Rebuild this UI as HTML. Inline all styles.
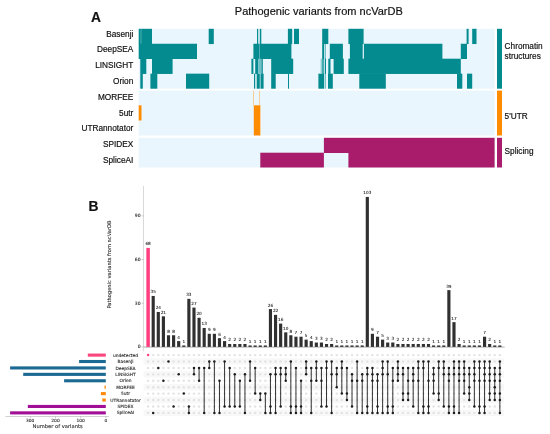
<!DOCTYPE html>
<html lang="en"><head><meta charset="utf-8"><title>Pathogenic variants from ncVarDB</title>
<style>html,body{margin:0;padding:0;background:#fff;}body{width:550px;height:434px;overflow:hidden;}svg{display:block;filter:blur(0.3px);}.a{font-family:"Liberation Sans",Arial,sans-serif;fill:#111;stroke:#111;stroke-width:0.18px;}.b{font-family:"DejaVu Sans","Liberation Sans",sans-serif;fill:#222;stroke:#333;stroke-width:0.1px;}</style></head><body>
<svg width="550" height="434" viewBox="0 0 550 434">
<rect x="0" y="0" width="550" height="434" fill="#ffffff"/>
<g id="panelA">
<text class="a" x="91" y="22.3" font-size="13.8" font-weight="bold" fill="#000">A</text>
<text class="a" x="318.8" y="14.8" font-size="11" text-anchor="middle">Pathogenic variants from ncVarDB</text>
<rect x="138.7" y="28.8" width="355.9" height="59.9" fill="#e9f6fd"/>
<rect x="138.7" y="90.6" width="355.9" height="44.9" fill="#e9f6fd"/>
<rect x="138.7" y="137.8" width="355.9" height="29.7" fill="#e9f6fd"/>
<rect x="138.7" y="28.8" width="13.3" height="15.25" fill="#038b8f"/>
<rect x="208.7" y="28.8" width="5.1" height="15.25" fill="#038b8f"/>
<rect x="257" y="28.8" width="1.2" height="15.25" fill="#038b8f"/>
<rect x="259.8" y="28.8" width="1.5" height="15.25" fill="#038b8f"/>
<rect x="287.9" y="28.8" width="4.3" height="15.25" fill="#038b8f"/>
<rect x="294" y="28.8" width="5" height="15.25" fill="#038b8f"/>
<rect x="322.2" y="28.8" width="6.1" height="15.25" fill="#038b8f"/>
<rect x="348.4" y="28.8" width="15.2" height="15.25" fill="#038b8f"/>
<rect x="466.6" y="28.8" width="2" height="15.25" fill="#038b8f"/>
<rect x="472.2" y="28.8" width="4.3" height="15.25" fill="#038b8f"/>
<rect x="138.7" y="43.75" width="58.3" height="15.25" fill="#038b8f"/>
<rect x="253.4" y="43.75" width="38" height="15.25" fill="#038b8f"/>
<rect x="322.2" y="43.75" width="1.8" height="15.25" fill="#038b8f"/>
<rect x="324.8" y="43.75" width="0.7" height="15.25" fill="#038b8f"/>
<rect x="329.8" y="43.75" width="13.1" height="15.25" fill="#038b8f"/>
<rect x="349.9" y="43.75" width="12.8" height="15.25" fill="#038b8f"/>
<rect x="363.9" y="43.75" width="78.5" height="15.25" fill="#038b8f"/>
<rect x="460.8" y="43.75" width="6.2" height="15.25" fill="#038b8f"/>
<rect x="140.3" y="58.7" width="6" height="15.25" fill="#038b8f"/>
<rect x="152" y="58.7" width="20.6" height="15.25" fill="#038b8f"/>
<rect x="251.4" y="58.7" width="2" height="15.25" fill="#038b8f"/>
<rect x="255.2" y="58.7" width="3" height="15.25" fill="#038b8f"/>
<rect x="261.3" y="58.7" width="1.5" height="15.25" fill="#038b8f"/>
<rect x="271.2" y="58.7" width="22" height="15.25" fill="#038b8f"/>
<rect x="322.2" y="58.7" width="1.5" height="15.25" fill="#038b8f"/>
<rect x="324.8" y="58.7" width="1.2" height="15.25" fill="#038b8f"/>
<rect x="328.3" y="58.7" width="2.2" height="15.25" fill="#038b8f"/>
<rect x="333.6" y="58.7" width="10.2" height="15.25" fill="#038b8f"/>
<rect x="348.4" y="58.7" width="112.4" height="15.25" fill="#038b8f"/>
<rect x="140.3" y="73.65" width="2.5" height="15.05" fill="#038b8f"/>
<rect x="150.4" y="73.65" width="6.9" height="15.05" fill="#038b8f"/>
<rect x="186" y="73.65" width="23.2" height="15.05" fill="#038b8f"/>
<rect x="254" y="73.65" width="1.2" height="15.05" fill="#038b8f"/>
<rect x="256.7" y="73.65" width="3.1" height="15.05" fill="#038b8f"/>
<rect x="260.5" y="73.65" width="3.1" height="15.05" fill="#038b8f"/>
<rect x="271.2" y="73.65" width="4.5" height="15.05" fill="#038b8f"/>
<rect x="288" y="73.65" width="1" height="15.05" fill="#038b8f"/>
<rect x="318.4" y="73.65" width="5.6" height="15.05" fill="#038b8f"/>
<rect x="324.8" y="73.65" width="0.7" height="15.05" fill="#038b8f"/>
<rect x="328" y="73.65" width="4.8" height="15.05" fill="#038b8f"/>
<rect x="359.3" y="73.65" width="26.5" height="15.05" fill="#038b8f"/>
<rect x="457" y="73.65" width="5.3" height="15.05" fill="#038b8f"/>
<rect x="467" y="73.65" width="5.2" height="15.05" fill="#038b8f"/>
<rect x="258.2" y="58.7" width="3.1" height="14.95" fill="#6fbfc4"/>
<rect x="320.6" y="58.7" width="1.6" height="14.95" fill="#8fd0d4"/>
<rect x="140.7" y="28.8" width="0.6" height="14.95" fill="#7cc6ca"/>
<rect x="259.3" y="43.75" width="0.6" height="14.95" fill="#7cc6ca"/>
<rect x="253.4" y="90.6" width="0.6" height="14.7" fill="#ffb55c"/>
<rect x="259" y="90.6" width="0.6" height="14.7" fill="#ffb55c"/>
<rect x="138.7" y="105.3" width="2.8" height="15.2" fill="#ff8c00"/>
<rect x="253.8" y="105.3" width="6.5" height="30.2" fill="#ff8c00"/>
<rect x="260.3" y="105.3" width="0.7" height="30.2" fill="#ffd19b"/>
<rect x="323.9" y="137.8" width="170.7" height="15.2" fill="#a91c6b"/>
<rect x="260.3" y="152.7" width="63.6" height="14.8" fill="#a91c6b"/>
<rect x="348.4" y="152.7" width="146.2" height="14.8" fill="#a91c6b"/>
<rect x="497" y="28.8" width="5" height="59.9" fill="#038b8f"/>
<rect x="497" y="90.6" width="5" height="44.9" fill="#ff8c00"/>
<rect x="497" y="137.8" width="5" height="29.7" fill="#a91c6b"/>
<text class="a" x="133.3" y="36.7" font-size="8.25" text-anchor="end">Basenji</text>
<text class="a" x="133.3" y="52.46" font-size="8.25" text-anchor="end">DeepSEA</text>
<text class="a" x="133.3" y="68.22" font-size="8.25" text-anchor="end">LINSIGHT</text>
<text class="a" x="133.3" y="83.98" font-size="8.25" text-anchor="end">Orion</text>
<text class="a" x="133.3" y="99.74" font-size="8.25" text-anchor="end">MORFEE</text>
<text class="a" x="133.3" y="115.5" font-size="8.25" text-anchor="end">5utr</text>
<text class="a" x="133.3" y="131.26" font-size="8.25" text-anchor="end">UTRannotator</text>
<text class="a" x="133.3" y="147.02" font-size="8.25" text-anchor="end">SPIDEX</text>
<text class="a" x="133.3" y="162.78" font-size="8.25" text-anchor="end">SpliceAI</text>
<text class="a" x="504.6" y="49" font-size="8.25">Chromatin</text>
<text class="a" x="504.6" y="59.3" font-size="8.25">structures</text>
<text class="a" x="504.6" y="118.6" font-size="8.25">5'UTR</text>
<text class="a" x="504.6" y="154.3" font-size="8.25">Splicing</text>
</g>
<g id="panelB">
<text class="a" x="88.6" y="211" font-size="13.8" font-weight="bold" fill="#000">B</text>
<line x1="143.5" y1="186" x2="143.5" y2="346.9" stroke="#c9c9c9" stroke-width="0.7"/>
<line x1="141.6" y1="346.9" x2="143.5" y2="346.9" stroke="#999" stroke-width="0.5"/>
<text class="b" x="140.6" y="348.4" font-size="4.5" text-anchor="end" fill="#444">0</text>
<line x1="141.6" y1="303.22" x2="143.5" y2="303.22" stroke="#999" stroke-width="0.5"/>
<text class="b" x="140.6" y="304.72" font-size="4.5" text-anchor="end" fill="#444">30</text>
<line x1="141.6" y1="259.54" x2="143.5" y2="259.54" stroke="#999" stroke-width="0.5"/>
<text class="b" x="140.6" y="261.04" font-size="4.5" text-anchor="end" fill="#444">60</text>
<line x1="141.6" y1="215.86" x2="143.5" y2="215.86" stroke="#999" stroke-width="0.5"/>
<text class="b" x="140.6" y="217.36" font-size="4.5" text-anchor="end" fill="#444">90</text>
<text class="b" transform="translate(110.6 264.5) rotate(-90)" font-size="5.15" text-anchor="middle" fill="#222">Pathogenic variants from ncVarDB</text>
<line x1="143.5" y1="347.1" x2="504.7" y2="347.1" stroke="#8c8c8c" stroke-width="0.7"/>
<line x1="143.4" y1="347" x2="143.4" y2="351.4" stroke="#c4c4c4" stroke-width="0.6"/>
<rect x="146.35" y="247.89" width="3.5" height="99.01" fill="#ff3f80"/>
<text class="b" x="148.1" y="245.39" font-size="4.2" text-anchor="middle" fill="#3a3a3a">68</text>
<rect x="151.62" y="295.94" width="3.15" height="50.96" fill="#303030"/>
<text class="b" x="153.2" y="293.44" font-size="4.2" text-anchor="middle" fill="#3a3a3a">35</text>
<rect x="156.72" y="311.96" width="3.15" height="34.94" fill="#303030"/>
<text class="b" x="158.3" y="309.46" font-size="4.2" text-anchor="middle" fill="#3a3a3a">24</text>
<rect x="161.82" y="316.32" width="3.15" height="30.58" fill="#303030"/>
<text class="b" x="163.39" y="313.82" font-size="4.2" text-anchor="middle" fill="#3a3a3a">21</text>
<rect x="166.92" y="335.25" width="3.15" height="11.65" fill="#303030"/>
<text class="b" x="168.49" y="332.75" font-size="4.2" text-anchor="middle" fill="#3a3a3a">8</text>
<rect x="172.02" y="335.25" width="3.15" height="11.65" fill="#303030"/>
<text class="b" x="173.59" y="332.75" font-size="4.2" text-anchor="middle" fill="#3a3a3a">8</text>
<rect x="177.11" y="341.08" width="3.15" height="5.82" fill="#303030"/>
<text class="b" x="178.69" y="338.58" font-size="4.2" text-anchor="middle" fill="#3a3a3a">4</text>
<rect x="182.21" y="345.44" width="3.15" height="1.46" fill="#303030"/>
<text class="b" x="183.79" y="342.94" font-size="4.2" text-anchor="middle" fill="#3a3a3a">1</text>
<rect x="187.31" y="298.85" width="3.15" height="48.05" fill="#303030"/>
<text class="b" x="188.88" y="296.35" font-size="4.2" text-anchor="middle" fill="#3a3a3a">33</text>
<rect x="192.41" y="307.59" width="3.15" height="39.31" fill="#303030"/>
<text class="b" x="193.98" y="305.09" font-size="4.2" text-anchor="middle" fill="#3a3a3a">27</text>
<rect x="197.5" y="317.78" width="3.15" height="29.12" fill="#303030"/>
<text class="b" x="199.08" y="315.28" font-size="4.2" text-anchor="middle" fill="#3a3a3a">20</text>
<rect x="202.6" y="327.97" width="3.15" height="18.93" fill="#303030"/>
<text class="b" x="204.18" y="325.47" font-size="4.2" text-anchor="middle" fill="#3a3a3a">13</text>
<rect x="207.7" y="333.8" width="3.15" height="13.1" fill="#303030"/>
<text class="b" x="209.28" y="331.3" font-size="4.2" text-anchor="middle" fill="#3a3a3a">9</text>
<rect x="212.8" y="333.8" width="3.15" height="13.1" fill="#303030"/>
<text class="b" x="214.37" y="331.3" font-size="4.2" text-anchor="middle" fill="#3a3a3a">9</text>
<rect x="217.9" y="338.16" width="3.15" height="8.74" fill="#303030"/>
<text class="b" x="219.47" y="335.66" font-size="4.2" text-anchor="middle" fill="#3a3a3a">6</text>
<rect x="223" y="341.08" width="3.15" height="5.82" fill="#303030"/>
<text class="b" x="224.57" y="338.58" font-size="4.2" text-anchor="middle" fill="#3a3a3a">4</text>
<rect x="228.09" y="343.99" width="3.15" height="2.91" fill="#303030"/>
<text class="b" x="229.67" y="341.49" font-size="4.2" text-anchor="middle" fill="#3a3a3a">2</text>
<rect x="233.19" y="343.99" width="3.15" height="2.91" fill="#303030"/>
<text class="b" x="234.77" y="341.49" font-size="4.2" text-anchor="middle" fill="#3a3a3a">2</text>
<rect x="238.29" y="343.99" width="3.15" height="2.91" fill="#303030"/>
<text class="b" x="239.86" y="341.49" font-size="4.2" text-anchor="middle" fill="#3a3a3a">2</text>
<rect x="243.39" y="343.99" width="3.15" height="2.91" fill="#303030"/>
<text class="b" x="244.96" y="341.49" font-size="4.2" text-anchor="middle" fill="#3a3a3a">2</text>
<rect x="248.49" y="345.44" width="3.15" height="1.46" fill="#303030"/>
<text class="b" x="250.06" y="342.94" font-size="4.2" text-anchor="middle" fill="#3a3a3a">1</text>
<rect x="253.58" y="345.44" width="3.15" height="1.46" fill="#303030"/>
<text class="b" x="255.16" y="342.94" font-size="4.2" text-anchor="middle" fill="#3a3a3a">1</text>
<rect x="258.68" y="345.44" width="3.15" height="1.46" fill="#303030"/>
<text class="b" x="260.26" y="342.94" font-size="4.2" text-anchor="middle" fill="#3a3a3a">1</text>
<rect x="263.78" y="345.44" width="3.15" height="1.46" fill="#303030"/>
<text class="b" x="265.35" y="342.94" font-size="4.2" text-anchor="middle" fill="#3a3a3a">1</text>
<rect x="268.88" y="309.04" width="3.15" height="37.86" fill="#303030"/>
<text class="b" x="270.45" y="306.54" font-size="4.2" text-anchor="middle" fill="#3a3a3a">26</text>
<rect x="273.98" y="314.87" width="3.15" height="32.03" fill="#303030"/>
<text class="b" x="275.55" y="312.37" font-size="4.2" text-anchor="middle" fill="#3a3a3a">22</text>
<rect x="279.07" y="323.6" width="3.15" height="23.3" fill="#303030"/>
<text class="b" x="280.65" y="321.1" font-size="4.2" text-anchor="middle" fill="#3a3a3a">16</text>
<rect x="284.17" y="332.34" width="3.15" height="14.56" fill="#303030"/>
<text class="b" x="285.75" y="329.84" font-size="4.2" text-anchor="middle" fill="#3a3a3a">10</text>
<rect x="289.27" y="335.25" width="3.15" height="11.65" fill="#303030"/>
<text class="b" x="290.84" y="332.75" font-size="4.2" text-anchor="middle" fill="#3a3a3a">8</text>
<rect x="294.37" y="336.71" width="3.15" height="10.19" fill="#303030"/>
<text class="b" x="295.94" y="334.21" font-size="4.2" text-anchor="middle" fill="#3a3a3a">7</text>
<rect x="299.46" y="336.71" width="3.15" height="10.19" fill="#303030"/>
<text class="b" x="301.04" y="334.21" font-size="4.2" text-anchor="middle" fill="#3a3a3a">7</text>
<rect x="304.56" y="339.62" width="3.15" height="7.28" fill="#303030"/>
<text class="b" x="306.14" y="337.12" font-size="4.2" text-anchor="middle" fill="#3a3a3a">5</text>
<rect x="309.66" y="341.08" width="3.15" height="5.82" fill="#303030"/>
<text class="b" x="311.24" y="338.58" font-size="4.2" text-anchor="middle" fill="#3a3a3a">4</text>
<rect x="314.76" y="342.53" width="3.15" height="4.37" fill="#303030"/>
<text class="b" x="316.33" y="340.03" font-size="4.2" text-anchor="middle" fill="#3a3a3a">3</text>
<rect x="319.86" y="342.53" width="3.15" height="4.37" fill="#303030"/>
<text class="b" x="321.43" y="340.03" font-size="4.2" text-anchor="middle" fill="#3a3a3a">3</text>
<rect x="324.95" y="343.99" width="3.15" height="2.91" fill="#303030"/>
<text class="b" x="326.53" y="341.49" font-size="4.2" text-anchor="middle" fill="#3a3a3a">2</text>
<rect x="330.05" y="343.99" width="3.15" height="2.91" fill="#303030"/>
<text class="b" x="331.63" y="341.49" font-size="4.2" text-anchor="middle" fill="#3a3a3a">2</text>
<rect x="335.15" y="345.44" width="3.15" height="1.46" fill="#303030"/>
<text class="b" x="336.73" y="342.94" font-size="4.2" text-anchor="middle" fill="#3a3a3a">1</text>
<rect x="340.25" y="345.44" width="3.15" height="1.46" fill="#303030"/>
<text class="b" x="341.82" y="342.94" font-size="4.2" text-anchor="middle" fill="#3a3a3a">1</text>
<rect x="345.35" y="345.44" width="3.15" height="1.46" fill="#303030"/>
<text class="b" x="346.92" y="342.94" font-size="4.2" text-anchor="middle" fill="#3a3a3a">1</text>
<rect x="350.44" y="345.44" width="3.15" height="1.46" fill="#303030"/>
<text class="b" x="352.02" y="342.94" font-size="4.2" text-anchor="middle" fill="#3a3a3a">1</text>
<rect x="355.54" y="345.44" width="3.15" height="1.46" fill="#303030"/>
<text class="b" x="357.12" y="342.94" font-size="4.2" text-anchor="middle" fill="#3a3a3a">1</text>
<rect x="360.64" y="345.44" width="3.15" height="1.46" fill="#303030"/>
<text class="b" x="362.22" y="342.94" font-size="4.2" text-anchor="middle" fill="#3a3a3a">1</text>
<rect x="365.74" y="196.93" width="3.15" height="149.97" fill="#303030"/>
<text class="b" x="367.31" y="194.43" font-size="4.2" text-anchor="middle" fill="#3a3a3a">103</text>
<rect x="370.84" y="333.8" width="3.15" height="13.1" fill="#303030"/>
<text class="b" x="372.41" y="331.3" font-size="4.2" text-anchor="middle" fill="#3a3a3a">9</text>
<rect x="375.94" y="336.71" width="3.15" height="10.19" fill="#303030"/>
<text class="b" x="377.51" y="334.21" font-size="4.2" text-anchor="middle" fill="#3a3a3a">7</text>
<rect x="381.03" y="339.62" width="3.15" height="7.28" fill="#303030"/>
<text class="b" x="382.61" y="337.12" font-size="4.2" text-anchor="middle" fill="#3a3a3a">5</text>
<rect x="386.13" y="342.53" width="3.15" height="4.37" fill="#303030"/>
<text class="b" x="387.71" y="340.03" font-size="4.2" text-anchor="middle" fill="#3a3a3a">3</text>
<rect x="391.23" y="342.53" width="3.15" height="4.37" fill="#303030"/>
<text class="b" x="392.8" y="340.03" font-size="4.2" text-anchor="middle" fill="#3a3a3a">3</text>
<rect x="396.33" y="343.99" width="3.15" height="2.91" fill="#303030"/>
<text class="b" x="397.9" y="341.49" font-size="4.2" text-anchor="middle" fill="#3a3a3a">2</text>
<rect x="401.43" y="343.99" width="3.15" height="2.91" fill="#303030"/>
<text class="b" x="403" y="341.49" font-size="4.2" text-anchor="middle" fill="#3a3a3a">2</text>
<rect x="406.52" y="343.99" width="3.15" height="2.91" fill="#303030"/>
<text class="b" x="408.1" y="341.49" font-size="4.2" text-anchor="middle" fill="#3a3a3a">2</text>
<rect x="411.62" y="343.99" width="3.15" height="2.91" fill="#303030"/>
<text class="b" x="413.2" y="341.49" font-size="4.2" text-anchor="middle" fill="#3a3a3a">2</text>
<rect x="416.72" y="343.99" width="3.15" height="2.91" fill="#303030"/>
<text class="b" x="418.29" y="341.49" font-size="4.2" text-anchor="middle" fill="#3a3a3a">2</text>
<rect x="421.82" y="343.99" width="3.15" height="2.91" fill="#303030"/>
<text class="b" x="423.39" y="341.49" font-size="4.2" text-anchor="middle" fill="#3a3a3a">2</text>
<rect x="426.92" y="343.99" width="3.15" height="2.91" fill="#303030"/>
<text class="b" x="428.49" y="341.49" font-size="4.2" text-anchor="middle" fill="#3a3a3a">2</text>
<rect x="432.01" y="345.44" width="3.15" height="1.46" fill="#303030"/>
<text class="b" x="433.59" y="342.94" font-size="4.2" text-anchor="middle" fill="#3a3a3a">1</text>
<rect x="437.11" y="345.44" width="3.15" height="1.46" fill="#303030"/>
<text class="b" x="438.69" y="342.94" font-size="4.2" text-anchor="middle" fill="#3a3a3a">1</text>
<rect x="442.21" y="345.44" width="3.15" height="1.46" fill="#303030"/>
<text class="b" x="443.78" y="342.94" font-size="4.2" text-anchor="middle" fill="#3a3a3a">1</text>
<rect x="447.31" y="290.12" width="3.15" height="56.78" fill="#303030"/>
<text class="b" x="448.88" y="287.62" font-size="4.2" text-anchor="middle" fill="#3a3a3a">39</text>
<rect x="452.41" y="322.15" width="3.15" height="24.75" fill="#303030"/>
<text class="b" x="453.98" y="319.65" font-size="4.2" text-anchor="middle" fill="#3a3a3a">17</text>
<rect x="457.5" y="343.99" width="3.15" height="2.91" fill="#303030"/>
<text class="b" x="459.08" y="341.49" font-size="4.2" text-anchor="middle" fill="#3a3a3a">2</text>
<rect x="462.6" y="345.44" width="3.15" height="1.46" fill="#303030"/>
<text class="b" x="464.18" y="342.94" font-size="4.2" text-anchor="middle" fill="#3a3a3a">1</text>
<rect x="467.7" y="345.44" width="3.15" height="1.46" fill="#303030"/>
<text class="b" x="469.27" y="342.94" font-size="4.2" text-anchor="middle" fill="#3a3a3a">1</text>
<rect x="472.8" y="345.44" width="3.15" height="1.46" fill="#303030"/>
<text class="b" x="474.37" y="342.94" font-size="4.2" text-anchor="middle" fill="#3a3a3a">1</text>
<rect x="477.9" y="345.44" width="3.15" height="1.46" fill="#303030"/>
<text class="b" x="479.47" y="342.94" font-size="4.2" text-anchor="middle" fill="#3a3a3a">1</text>
<rect x="482.99" y="336.71" width="3.15" height="10.19" fill="#303030"/>
<text class="b" x="484.57" y="334.21" font-size="4.2" text-anchor="middle" fill="#3a3a3a">7</text>
<rect x="488.09" y="343.99" width="3.15" height="2.91" fill="#303030"/>
<text class="b" x="489.67" y="341.49" font-size="4.2" text-anchor="middle" fill="#3a3a3a">2</text>
<rect x="493.19" y="345.44" width="3.15" height="1.46" fill="#303030"/>
<text class="b" x="494.76" y="342.94" font-size="4.2" text-anchor="middle" fill="#3a3a3a">1</text>
<rect x="498.29" y="345.44" width="3.15" height="1.46" fill="#303030"/>
<text class="b" x="499.86" y="342.94" font-size="4.2" text-anchor="middle" fill="#3a3a3a">1</text>
<rect x="143.4" y="358.31" width="360.6" height="6.42" fill="#f8f8f8"/>
<rect x="143.4" y="371.15" width="360.6" height="6.42" fill="#f8f8f8"/>
<rect x="143.4" y="383.99" width="360.6" height="6.42" fill="#f8f8f8"/>
<rect x="143.4" y="396.83" width="360.6" height="6.42" fill="#f8f8f8"/>
<rect x="143.4" y="409.67" width="360.6" height="6.42" fill="#f8f8f8"/>
<g fill="#e3e3e3">
<circle cx="148.1" cy="361.52" r="1.2"/>
<circle cx="148.1" cy="367.94" r="1.2"/>
<circle cx="148.1" cy="374.36" r="1.2"/>
<circle cx="148.1" cy="380.78" r="1.2"/>
<circle cx="148.1" cy="387.2" r="1.2"/>
<circle cx="148.1" cy="393.62" r="1.2"/>
<circle cx="148.1" cy="400.04" r="1.2"/>
<circle cx="148.1" cy="406.46" r="1.2"/>
<circle cx="148.1" cy="412.88" r="1.2"/>
<circle cx="153.2" cy="355.1" r="1.2"/>
<circle cx="153.2" cy="361.52" r="1.2"/>
<circle cx="153.2" cy="367.94" r="1.2"/>
<circle cx="153.2" cy="374.36" r="1.2"/>
<circle cx="153.2" cy="380.78" r="1.2"/>
<circle cx="153.2" cy="387.2" r="1.2"/>
<circle cx="153.2" cy="393.62" r="1.2"/>
<circle cx="153.2" cy="400.04" r="1.2"/>
<circle cx="153.2" cy="406.46" r="1.2"/>
<circle cx="158.3" cy="355.1" r="1.2"/>
<circle cx="158.3" cy="361.52" r="1.2"/>
<circle cx="158.3" cy="374.36" r="1.2"/>
<circle cx="158.3" cy="380.78" r="1.2"/>
<circle cx="158.3" cy="387.2" r="1.2"/>
<circle cx="158.3" cy="393.62" r="1.2"/>
<circle cx="158.3" cy="400.04" r="1.2"/>
<circle cx="158.3" cy="406.46" r="1.2"/>
<circle cx="158.3" cy="412.88" r="1.2"/>
<circle cx="163.39" cy="355.1" r="1.2"/>
<circle cx="163.39" cy="361.52" r="1.2"/>
<circle cx="163.39" cy="367.94" r="1.2"/>
<circle cx="163.39" cy="374.36" r="1.2"/>
<circle cx="163.39" cy="387.2" r="1.2"/>
<circle cx="163.39" cy="393.62" r="1.2"/>
<circle cx="163.39" cy="400.04" r="1.2"/>
<circle cx="163.39" cy="406.46" r="1.2"/>
<circle cx="163.39" cy="412.88" r="1.2"/>
<circle cx="168.49" cy="355.1" r="1.2"/>
<circle cx="168.49" cy="367.94" r="1.2"/>
<circle cx="168.49" cy="374.36" r="1.2"/>
<circle cx="168.49" cy="380.78" r="1.2"/>
<circle cx="168.49" cy="387.2" r="1.2"/>
<circle cx="168.49" cy="393.62" r="1.2"/>
<circle cx="168.49" cy="400.04" r="1.2"/>
<circle cx="168.49" cy="406.46" r="1.2"/>
<circle cx="168.49" cy="412.88" r="1.2"/>
<circle cx="173.59" cy="355.1" r="1.2"/>
<circle cx="173.59" cy="361.52" r="1.2"/>
<circle cx="173.59" cy="367.94" r="1.2"/>
<circle cx="173.59" cy="374.36" r="1.2"/>
<circle cx="173.59" cy="380.78" r="1.2"/>
<circle cx="173.59" cy="387.2" r="1.2"/>
<circle cx="173.59" cy="393.62" r="1.2"/>
<circle cx="173.59" cy="400.04" r="1.2"/>
<circle cx="173.59" cy="412.88" r="1.2"/>
<circle cx="178.69" cy="355.1" r="1.2"/>
<circle cx="178.69" cy="361.52" r="1.2"/>
<circle cx="178.69" cy="367.94" r="1.2"/>
<circle cx="178.69" cy="380.78" r="1.2"/>
<circle cx="178.69" cy="387.2" r="1.2"/>
<circle cx="178.69" cy="393.62" r="1.2"/>
<circle cx="178.69" cy="400.04" r="1.2"/>
<circle cx="178.69" cy="406.46" r="1.2"/>
<circle cx="178.69" cy="412.88" r="1.2"/>
<circle cx="183.79" cy="355.1" r="1.2"/>
<circle cx="183.79" cy="361.52" r="1.2"/>
<circle cx="183.79" cy="367.94" r="1.2"/>
<circle cx="183.79" cy="374.36" r="1.2"/>
<circle cx="183.79" cy="380.78" r="1.2"/>
<circle cx="183.79" cy="387.2" r="1.2"/>
<circle cx="183.79" cy="400.04" r="1.2"/>
<circle cx="183.79" cy="406.46" r="1.2"/>
<circle cx="183.79" cy="412.88" r="1.2"/>
<circle cx="188.88" cy="355.1" r="1.2"/>
<circle cx="188.88" cy="361.52" r="1.2"/>
<circle cx="188.88" cy="367.94" r="1.2"/>
<circle cx="188.88" cy="374.36" r="1.2"/>
<circle cx="188.88" cy="380.78" r="1.2"/>
<circle cx="188.88" cy="387.2" r="1.2"/>
<circle cx="188.88" cy="393.62" r="1.2"/>
<circle cx="188.88" cy="400.04" r="1.2"/>
<circle cx="193.98" cy="355.1" r="1.2"/>
<circle cx="193.98" cy="361.52" r="1.2"/>
<circle cx="193.98" cy="380.78" r="1.2"/>
<circle cx="193.98" cy="387.2" r="1.2"/>
<circle cx="193.98" cy="393.62" r="1.2"/>
<circle cx="193.98" cy="400.04" r="1.2"/>
<circle cx="193.98" cy="406.46" r="1.2"/>
<circle cx="193.98" cy="412.88" r="1.2"/>
<circle cx="199.08" cy="355.1" r="1.2"/>
<circle cx="199.08" cy="361.52" r="1.2"/>
<circle cx="199.08" cy="374.36" r="1.2"/>
<circle cx="199.08" cy="387.2" r="1.2"/>
<circle cx="199.08" cy="393.62" r="1.2"/>
<circle cx="199.08" cy="400.04" r="1.2"/>
<circle cx="199.08" cy="406.46" r="1.2"/>
<circle cx="199.08" cy="412.88" r="1.2"/>
<circle cx="204.18" cy="355.1" r="1.2"/>
<circle cx="204.18" cy="361.52" r="1.2"/>
<circle cx="204.18" cy="374.36" r="1.2"/>
<circle cx="204.18" cy="380.78" r="1.2"/>
<circle cx="204.18" cy="387.2" r="1.2"/>
<circle cx="204.18" cy="393.62" r="1.2"/>
<circle cx="204.18" cy="400.04" r="1.2"/>
<circle cx="204.18" cy="406.46" r="1.2"/>
<circle cx="209.28" cy="355.1" r="1.2"/>
<circle cx="209.28" cy="374.36" r="1.2"/>
<circle cx="209.28" cy="380.78" r="1.2"/>
<circle cx="209.28" cy="387.2" r="1.2"/>
<circle cx="209.28" cy="393.62" r="1.2"/>
<circle cx="209.28" cy="400.04" r="1.2"/>
<circle cx="209.28" cy="406.46" r="1.2"/>
<circle cx="209.28" cy="412.88" r="1.2"/>
<circle cx="214.37" cy="355.1" r="1.2"/>
<circle cx="214.37" cy="367.94" r="1.2"/>
<circle cx="214.37" cy="374.36" r="1.2"/>
<circle cx="214.37" cy="380.78" r="1.2"/>
<circle cx="214.37" cy="387.2" r="1.2"/>
<circle cx="214.37" cy="393.62" r="1.2"/>
<circle cx="214.37" cy="400.04" r="1.2"/>
<circle cx="214.37" cy="406.46" r="1.2"/>
<circle cx="219.47" cy="355.1" r="1.2"/>
<circle cx="219.47" cy="361.52" r="1.2"/>
<circle cx="219.47" cy="367.94" r="1.2"/>
<circle cx="219.47" cy="374.36" r="1.2"/>
<circle cx="219.47" cy="387.2" r="1.2"/>
<circle cx="219.47" cy="393.62" r="1.2"/>
<circle cx="219.47" cy="400.04" r="1.2"/>
<circle cx="219.47" cy="406.46" r="1.2"/>
<circle cx="224.57" cy="355.1" r="1.2"/>
<circle cx="224.57" cy="367.94" r="1.2"/>
<circle cx="224.57" cy="374.36" r="1.2"/>
<circle cx="224.57" cy="380.78" r="1.2"/>
<circle cx="224.57" cy="387.2" r="1.2"/>
<circle cx="224.57" cy="393.62" r="1.2"/>
<circle cx="224.57" cy="400.04" r="1.2"/>
<circle cx="224.57" cy="412.88" r="1.2"/>
<circle cx="229.67" cy="355.1" r="1.2"/>
<circle cx="229.67" cy="361.52" r="1.2"/>
<circle cx="229.67" cy="374.36" r="1.2"/>
<circle cx="229.67" cy="380.78" r="1.2"/>
<circle cx="229.67" cy="387.2" r="1.2"/>
<circle cx="229.67" cy="393.62" r="1.2"/>
<circle cx="229.67" cy="400.04" r="1.2"/>
<circle cx="229.67" cy="412.88" r="1.2"/>
<circle cx="234.77" cy="355.1" r="1.2"/>
<circle cx="234.77" cy="361.52" r="1.2"/>
<circle cx="234.77" cy="367.94" r="1.2"/>
<circle cx="234.77" cy="380.78" r="1.2"/>
<circle cx="234.77" cy="387.2" r="1.2"/>
<circle cx="234.77" cy="393.62" r="1.2"/>
<circle cx="234.77" cy="400.04" r="1.2"/>
<circle cx="234.77" cy="412.88" r="1.2"/>
<circle cx="239.86" cy="355.1" r="1.2"/>
<circle cx="239.86" cy="361.52" r="1.2"/>
<circle cx="239.86" cy="367.94" r="1.2"/>
<circle cx="239.86" cy="374.36" r="1.2"/>
<circle cx="239.86" cy="387.2" r="1.2"/>
<circle cx="239.86" cy="393.62" r="1.2"/>
<circle cx="239.86" cy="400.04" r="1.2"/>
<circle cx="239.86" cy="412.88" r="1.2"/>
<circle cx="244.96" cy="355.1" r="1.2"/>
<circle cx="244.96" cy="361.52" r="1.2"/>
<circle cx="244.96" cy="367.94" r="1.2"/>
<circle cx="244.96" cy="380.78" r="1.2"/>
<circle cx="244.96" cy="387.2" r="1.2"/>
<circle cx="244.96" cy="393.62" r="1.2"/>
<circle cx="244.96" cy="400.04" r="1.2"/>
<circle cx="244.96" cy="406.46" r="1.2"/>
<circle cx="250.06" cy="355.1" r="1.2"/>
<circle cx="250.06" cy="367.94" r="1.2"/>
<circle cx="250.06" cy="374.36" r="1.2"/>
<circle cx="250.06" cy="387.2" r="1.2"/>
<circle cx="250.06" cy="393.62" r="1.2"/>
<circle cx="250.06" cy="400.04" r="1.2"/>
<circle cx="250.06" cy="406.46" r="1.2"/>
<circle cx="250.06" cy="412.88" r="1.2"/>
<circle cx="255.16" cy="355.1" r="1.2"/>
<circle cx="255.16" cy="361.52" r="1.2"/>
<circle cx="255.16" cy="374.36" r="1.2"/>
<circle cx="255.16" cy="380.78" r="1.2"/>
<circle cx="255.16" cy="387.2" r="1.2"/>
<circle cx="255.16" cy="400.04" r="1.2"/>
<circle cx="255.16" cy="406.46" r="1.2"/>
<circle cx="255.16" cy="412.88" r="1.2"/>
<circle cx="260.26" cy="355.1" r="1.2"/>
<circle cx="260.26" cy="361.52" r="1.2"/>
<circle cx="260.26" cy="367.94" r="1.2"/>
<circle cx="260.26" cy="374.36" r="1.2"/>
<circle cx="260.26" cy="380.78" r="1.2"/>
<circle cx="260.26" cy="387.2" r="1.2"/>
<circle cx="260.26" cy="406.46" r="1.2"/>
<circle cx="260.26" cy="412.88" r="1.2"/>
<circle cx="265.35" cy="355.1" r="1.2"/>
<circle cx="265.35" cy="361.52" r="1.2"/>
<circle cx="265.35" cy="367.94" r="1.2"/>
<circle cx="265.35" cy="374.36" r="1.2"/>
<circle cx="265.35" cy="380.78" r="1.2"/>
<circle cx="265.35" cy="387.2" r="1.2"/>
<circle cx="265.35" cy="400.04" r="1.2"/>
<circle cx="265.35" cy="406.46" r="1.2"/>
<circle cx="270.45" cy="355.1" r="1.2"/>
<circle cx="270.45" cy="361.52" r="1.2"/>
<circle cx="270.45" cy="367.94" r="1.2"/>
<circle cx="270.45" cy="380.78" r="1.2"/>
<circle cx="270.45" cy="387.2" r="1.2"/>
<circle cx="270.45" cy="393.62" r="1.2"/>
<circle cx="270.45" cy="400.04" r="1.2"/>
<circle cx="275.55" cy="355.1" r="1.2"/>
<circle cx="275.55" cy="361.52" r="1.2"/>
<circle cx="275.55" cy="380.78" r="1.2"/>
<circle cx="275.55" cy="387.2" r="1.2"/>
<circle cx="275.55" cy="393.62" r="1.2"/>
<circle cx="275.55" cy="400.04" r="1.2"/>
<circle cx="275.55" cy="406.46" r="1.2"/>
<circle cx="280.65" cy="355.1" r="1.2"/>
<circle cx="280.65" cy="361.52" r="1.2"/>
<circle cx="280.65" cy="380.78" r="1.2"/>
<circle cx="280.65" cy="387.2" r="1.2"/>
<circle cx="280.65" cy="393.62" r="1.2"/>
<circle cx="280.65" cy="400.04" r="1.2"/>
<circle cx="280.65" cy="412.88" r="1.2"/>
<circle cx="285.75" cy="355.1" r="1.2"/>
<circle cx="285.75" cy="361.52" r="1.2"/>
<circle cx="285.75" cy="387.2" r="1.2"/>
<circle cx="285.75" cy="393.62" r="1.2"/>
<circle cx="285.75" cy="400.04" r="1.2"/>
<circle cx="285.75" cy="406.46" r="1.2"/>
<circle cx="285.75" cy="412.88" r="1.2"/>
<circle cx="290.84" cy="355.1" r="1.2"/>
<circle cx="290.84" cy="367.94" r="1.2"/>
<circle cx="290.84" cy="374.36" r="1.2"/>
<circle cx="290.84" cy="380.78" r="1.2"/>
<circle cx="290.84" cy="387.2" r="1.2"/>
<circle cx="290.84" cy="393.62" r="1.2"/>
<circle cx="290.84" cy="400.04" r="1.2"/>
<circle cx="295.94" cy="355.1" r="1.2"/>
<circle cx="295.94" cy="361.52" r="1.2"/>
<circle cx="295.94" cy="374.36" r="1.2"/>
<circle cx="295.94" cy="380.78" r="1.2"/>
<circle cx="295.94" cy="387.2" r="1.2"/>
<circle cx="295.94" cy="393.62" r="1.2"/>
<circle cx="295.94" cy="400.04" r="1.2"/>
<circle cx="301.04" cy="355.1" r="1.2"/>
<circle cx="301.04" cy="361.52" r="1.2"/>
<circle cx="301.04" cy="367.94" r="1.2"/>
<circle cx="301.04" cy="374.36" r="1.2"/>
<circle cx="301.04" cy="387.2" r="1.2"/>
<circle cx="301.04" cy="393.62" r="1.2"/>
<circle cx="301.04" cy="400.04" r="1.2"/>
<circle cx="306.14" cy="355.1" r="1.2"/>
<circle cx="306.14" cy="380.78" r="1.2"/>
<circle cx="306.14" cy="387.2" r="1.2"/>
<circle cx="306.14" cy="393.62" r="1.2"/>
<circle cx="306.14" cy="400.04" r="1.2"/>
<circle cx="306.14" cy="406.46" r="1.2"/>
<circle cx="306.14" cy="412.88" r="1.2"/>
<circle cx="311.24" cy="355.1" r="1.2"/>
<circle cx="311.24" cy="361.52" r="1.2"/>
<circle cx="311.24" cy="374.36" r="1.2"/>
<circle cx="311.24" cy="387.2" r="1.2"/>
<circle cx="311.24" cy="393.62" r="1.2"/>
<circle cx="311.24" cy="400.04" r="1.2"/>
<circle cx="311.24" cy="406.46" r="1.2"/>
<circle cx="316.33" cy="355.1" r="1.2"/>
<circle cx="316.33" cy="374.36" r="1.2"/>
<circle cx="316.33" cy="387.2" r="1.2"/>
<circle cx="316.33" cy="393.62" r="1.2"/>
<circle cx="316.33" cy="400.04" r="1.2"/>
<circle cx="316.33" cy="406.46" r="1.2"/>
<circle cx="316.33" cy="412.88" r="1.2"/>
<circle cx="321.43" cy="355.1" r="1.2"/>
<circle cx="321.43" cy="361.52" r="1.2"/>
<circle cx="321.43" cy="374.36" r="1.2"/>
<circle cx="321.43" cy="387.2" r="1.2"/>
<circle cx="321.43" cy="393.62" r="1.2"/>
<circle cx="321.43" cy="400.04" r="1.2"/>
<circle cx="321.43" cy="412.88" r="1.2"/>
<circle cx="326.53" cy="355.1" r="1.2"/>
<circle cx="326.53" cy="374.36" r="1.2"/>
<circle cx="326.53" cy="380.78" r="1.2"/>
<circle cx="326.53" cy="387.2" r="1.2"/>
<circle cx="326.53" cy="393.62" r="1.2"/>
<circle cx="326.53" cy="400.04" r="1.2"/>
<circle cx="326.53" cy="412.88" r="1.2"/>
<circle cx="331.63" cy="355.1" r="1.2"/>
<circle cx="331.63" cy="367.94" r="1.2"/>
<circle cx="331.63" cy="380.78" r="1.2"/>
<circle cx="331.63" cy="387.2" r="1.2"/>
<circle cx="331.63" cy="393.62" r="1.2"/>
<circle cx="331.63" cy="400.04" r="1.2"/>
<circle cx="331.63" cy="406.46" r="1.2"/>
<circle cx="336.73" cy="355.1" r="1.2"/>
<circle cx="336.73" cy="361.52" r="1.2"/>
<circle cx="336.73" cy="380.78" r="1.2"/>
<circle cx="336.73" cy="393.62" r="1.2"/>
<circle cx="336.73" cy="400.04" r="1.2"/>
<circle cx="336.73" cy="406.46" r="1.2"/>
<circle cx="336.73" cy="412.88" r="1.2"/>
<circle cx="341.82" cy="355.1" r="1.2"/>
<circle cx="341.82" cy="374.36" r="1.2"/>
<circle cx="341.82" cy="380.78" r="1.2"/>
<circle cx="341.82" cy="387.2" r="1.2"/>
<circle cx="341.82" cy="400.04" r="1.2"/>
<circle cx="341.82" cy="406.46" r="1.2"/>
<circle cx="341.82" cy="412.88" r="1.2"/>
<circle cx="346.92" cy="355.1" r="1.2"/>
<circle cx="346.92" cy="361.52" r="1.2"/>
<circle cx="346.92" cy="374.36" r="1.2"/>
<circle cx="346.92" cy="380.78" r="1.2"/>
<circle cx="346.92" cy="387.2" r="1.2"/>
<circle cx="346.92" cy="406.46" r="1.2"/>
<circle cx="346.92" cy="412.88" r="1.2"/>
<circle cx="352.02" cy="355.1" r="1.2"/>
<circle cx="352.02" cy="361.52" r="1.2"/>
<circle cx="352.02" cy="367.94" r="1.2"/>
<circle cx="352.02" cy="387.2" r="1.2"/>
<circle cx="352.02" cy="393.62" r="1.2"/>
<circle cx="352.02" cy="400.04" r="1.2"/>
<circle cx="352.02" cy="412.88" r="1.2"/>
<circle cx="357.12" cy="355.1" r="1.2"/>
<circle cx="357.12" cy="367.94" r="1.2"/>
<circle cx="357.12" cy="374.36" r="1.2"/>
<circle cx="357.12" cy="387.2" r="1.2"/>
<circle cx="357.12" cy="393.62" r="1.2"/>
<circle cx="357.12" cy="400.04" r="1.2"/>
<circle cx="357.12" cy="406.46" r="1.2"/>
<circle cx="362.22" cy="355.1" r="1.2"/>
<circle cx="362.22" cy="361.52" r="1.2"/>
<circle cx="362.22" cy="367.94" r="1.2"/>
<circle cx="362.22" cy="387.2" r="1.2"/>
<circle cx="362.22" cy="393.62" r="1.2"/>
<circle cx="362.22" cy="400.04" r="1.2"/>
<circle cx="362.22" cy="406.46" r="1.2"/>
<circle cx="367.31" cy="355.1" r="1.2"/>
<circle cx="367.31" cy="361.52" r="1.2"/>
<circle cx="367.31" cy="380.78" r="1.2"/>
<circle cx="367.31" cy="387.2" r="1.2"/>
<circle cx="367.31" cy="393.62" r="1.2"/>
<circle cx="367.31" cy="400.04" r="1.2"/>
<circle cx="372.41" cy="355.1" r="1.2"/>
<circle cx="372.41" cy="361.52" r="1.2"/>
<circle cx="372.41" cy="387.2" r="1.2"/>
<circle cx="372.41" cy="393.62" r="1.2"/>
<circle cx="372.41" cy="400.04" r="1.2"/>
<circle cx="372.41" cy="406.46" r="1.2"/>
<circle cx="377.51" cy="355.1" r="1.2"/>
<circle cx="377.51" cy="361.52" r="1.2"/>
<circle cx="377.51" cy="367.94" r="1.2"/>
<circle cx="377.51" cy="387.2" r="1.2"/>
<circle cx="377.51" cy="393.62" r="1.2"/>
<circle cx="377.51" cy="400.04" r="1.2"/>
<circle cx="382.61" cy="355.1" r="1.2"/>
<circle cx="382.61" cy="380.78" r="1.2"/>
<circle cx="382.61" cy="387.2" r="1.2"/>
<circle cx="382.61" cy="393.62" r="1.2"/>
<circle cx="382.61" cy="400.04" r="1.2"/>
<circle cx="382.61" cy="406.46" r="1.2"/>
<circle cx="387.71" cy="355.1" r="1.2"/>
<circle cx="387.71" cy="367.94" r="1.2"/>
<circle cx="387.71" cy="380.78" r="1.2"/>
<circle cx="387.71" cy="387.2" r="1.2"/>
<circle cx="387.71" cy="393.62" r="1.2"/>
<circle cx="387.71" cy="400.04" r="1.2"/>
<circle cx="392.8" cy="355.1" r="1.2"/>
<circle cx="392.8" cy="361.52" r="1.2"/>
<circle cx="392.8" cy="374.36" r="1.2"/>
<circle cx="392.8" cy="387.2" r="1.2"/>
<circle cx="392.8" cy="393.62" r="1.2"/>
<circle cx="392.8" cy="400.04" r="1.2"/>
<circle cx="397.9" cy="355.1" r="1.2"/>
<circle cx="397.9" cy="387.2" r="1.2"/>
<circle cx="397.9" cy="393.62" r="1.2"/>
<circle cx="397.9" cy="400.04" r="1.2"/>
<circle cx="397.9" cy="406.46" r="1.2"/>
<circle cx="397.9" cy="412.88" r="1.2"/>
<circle cx="403" cy="355.1" r="1.2"/>
<circle cx="403" cy="361.52" r="1.2"/>
<circle cx="403" cy="380.78" r="1.2"/>
<circle cx="403" cy="387.2" r="1.2"/>
<circle cx="403" cy="406.46" r="1.2"/>
<circle cx="403" cy="412.88" r="1.2"/>
<circle cx="408.1" cy="355.1" r="1.2"/>
<circle cx="408.1" cy="361.52" r="1.2"/>
<circle cx="408.1" cy="374.36" r="1.2"/>
<circle cx="408.1" cy="387.2" r="1.2"/>
<circle cx="408.1" cy="406.46" r="1.2"/>
<circle cx="408.1" cy="412.88" r="1.2"/>
<circle cx="413.2" cy="355.1" r="1.2"/>
<circle cx="413.2" cy="361.52" r="1.2"/>
<circle cx="413.2" cy="387.2" r="1.2"/>
<circle cx="413.2" cy="393.62" r="1.2"/>
<circle cx="413.2" cy="400.04" r="1.2"/>
<circle cx="413.2" cy="412.88" r="1.2"/>
<circle cx="418.29" cy="355.1" r="1.2"/>
<circle cx="418.29" cy="374.36" r="1.2"/>
<circle cx="418.29" cy="387.2" r="1.2"/>
<circle cx="418.29" cy="393.62" r="1.2"/>
<circle cx="418.29" cy="400.04" r="1.2"/>
<circle cx="418.29" cy="406.46" r="1.2"/>
<circle cx="423.39" cy="355.1" r="1.2"/>
<circle cx="423.39" cy="374.36" r="1.2"/>
<circle cx="423.39" cy="380.78" r="1.2"/>
<circle cx="423.39" cy="387.2" r="1.2"/>
<circle cx="423.39" cy="393.62" r="1.2"/>
<circle cx="423.39" cy="400.04" r="1.2"/>
<circle cx="428.49" cy="355.1" r="1.2"/>
<circle cx="428.49" cy="367.94" r="1.2"/>
<circle cx="428.49" cy="374.36" r="1.2"/>
<circle cx="428.49" cy="387.2" r="1.2"/>
<circle cx="428.49" cy="393.62" r="1.2"/>
<circle cx="428.49" cy="400.04" r="1.2"/>
<circle cx="433.59" cy="355.1" r="1.2"/>
<circle cx="433.59" cy="361.52" r="1.2"/>
<circle cx="433.59" cy="387.2" r="1.2"/>
<circle cx="433.59" cy="400.04" r="1.2"/>
<circle cx="433.59" cy="406.46" r="1.2"/>
<circle cx="433.59" cy="412.88" r="1.2"/>
<circle cx="438.69" cy="355.1" r="1.2"/>
<circle cx="438.69" cy="374.36" r="1.2"/>
<circle cx="438.69" cy="380.78" r="1.2"/>
<circle cx="438.69" cy="387.2" r="1.2"/>
<circle cx="438.69" cy="406.46" r="1.2"/>
<circle cx="438.69" cy="412.88" r="1.2"/>
<circle cx="443.78" cy="355.1" r="1.2"/>
<circle cx="443.78" cy="380.78" r="1.2"/>
<circle cx="443.78" cy="387.2" r="1.2"/>
<circle cx="443.78" cy="393.62" r="1.2"/>
<circle cx="443.78" cy="400.04" r="1.2"/>
<circle cx="443.78" cy="412.88" r="1.2"/>
<circle cx="448.88" cy="355.1" r="1.2"/>
<circle cx="448.88" cy="361.52" r="1.2"/>
<circle cx="448.88" cy="387.2" r="1.2"/>
<circle cx="448.88" cy="393.62" r="1.2"/>
<circle cx="448.88" cy="400.04" r="1.2"/>
<circle cx="453.98" cy="355.1" r="1.2"/>
<circle cx="453.98" cy="380.78" r="1.2"/>
<circle cx="453.98" cy="387.2" r="1.2"/>
<circle cx="453.98" cy="393.62" r="1.2"/>
<circle cx="453.98" cy="400.04" r="1.2"/>
<circle cx="459.08" cy="355.1" r="1.2"/>
<circle cx="459.08" cy="387.2" r="1.2"/>
<circle cx="459.08" cy="393.62" r="1.2"/>
<circle cx="459.08" cy="400.04" r="1.2"/>
<circle cx="459.08" cy="406.46" r="1.2"/>
<circle cx="464.18" cy="355.1" r="1.2"/>
<circle cx="464.18" cy="387.2" r="1.2"/>
<circle cx="464.18" cy="400.04" r="1.2"/>
<circle cx="464.18" cy="406.46" r="1.2"/>
<circle cx="464.18" cy="412.88" r="1.2"/>
<circle cx="469.27" cy="355.1" r="1.2"/>
<circle cx="469.27" cy="361.52" r="1.2"/>
<circle cx="469.27" cy="380.78" r="1.2"/>
<circle cx="469.27" cy="406.46" r="1.2"/>
<circle cx="469.27" cy="412.88" r="1.2"/>
<circle cx="474.37" cy="355.1" r="1.2"/>
<circle cx="474.37" cy="387.2" r="1.2"/>
<circle cx="474.37" cy="393.62" r="1.2"/>
<circle cx="474.37" cy="400.04" r="1.2"/>
<circle cx="474.37" cy="412.88" r="1.2"/>
<circle cx="479.47" cy="355.1" r="1.2"/>
<circle cx="479.47" cy="374.36" r="1.2"/>
<circle cx="479.47" cy="387.2" r="1.2"/>
<circle cx="479.47" cy="393.62" r="1.2"/>
<circle cx="479.47" cy="400.04" r="1.2"/>
<circle cx="484.57" cy="355.1" r="1.2"/>
<circle cx="484.57" cy="387.2" r="1.2"/>
<circle cx="484.57" cy="393.62" r="1.2"/>
<circle cx="484.57" cy="400.04" r="1.2"/>
<circle cx="489.67" cy="355.1" r="1.2"/>
<circle cx="489.67" cy="387.2" r="1.2"/>
<circle cx="489.67" cy="406.46" r="1.2"/>
<circle cx="489.67" cy="412.88" r="1.2"/>
<circle cx="494.76" cy="355.1" r="1.2"/>
<circle cx="494.76" cy="361.52" r="1.2"/>
<circle cx="494.76" cy="406.46" r="1.2"/>
<circle cx="494.76" cy="412.88" r="1.2"/>
<circle cx="499.86" cy="355.1" r="1.2"/>
<circle cx="499.86" cy="387.2" r="1.2"/>
<circle cx="499.86" cy="406.46" r="1.2"/>
</g>
<circle cx="148.1" cy="355.1" r="1.25" fill="#ff3f80"/>
<circle cx="153.2" cy="412.88" r="1.25" fill="#1c1c1c"/>
<circle cx="158.3" cy="367.94" r="1.25" fill="#1c1c1c"/>
<circle cx="163.39" cy="380.78" r="1.25" fill="#1c1c1c"/>
<circle cx="168.49" cy="361.52" r="1.25" fill="#1c1c1c"/>
<circle cx="173.59" cy="406.46" r="1.25" fill="#1c1c1c"/>
<circle cx="178.69" cy="374.36" r="1.25" fill="#1c1c1c"/>
<circle cx="183.79" cy="393.62" r="1.25" fill="#1c1c1c"/>
<line x1="188.88" y1="406.46" x2="188.88" y2="412.88" stroke="#1c1c1c" stroke-width="0.9"/>
<circle cx="188.88" cy="406.46" r="1.25" fill="#1c1c1c"/>
<circle cx="188.88" cy="412.88" r="1.25" fill="#1c1c1c"/>
<line x1="193.98" y1="367.94" x2="193.98" y2="374.36" stroke="#1c1c1c" stroke-width="0.9"/>
<circle cx="193.98" cy="367.94" r="1.25" fill="#1c1c1c"/>
<circle cx="193.98" cy="374.36" r="1.25" fill="#1c1c1c"/>
<line x1="199.08" y1="367.94" x2="199.08" y2="380.78" stroke="#1c1c1c" stroke-width="0.9"/>
<circle cx="199.08" cy="367.94" r="1.25" fill="#1c1c1c"/>
<circle cx="199.08" cy="380.78" r="1.25" fill="#1c1c1c"/>
<line x1="204.18" y1="367.94" x2="204.18" y2="412.88" stroke="#1c1c1c" stroke-width="0.9"/>
<circle cx="204.18" cy="367.94" r="1.25" fill="#1c1c1c"/>
<circle cx="204.18" cy="412.88" r="1.25" fill="#1c1c1c"/>
<line x1="209.28" y1="361.52" x2="209.28" y2="367.94" stroke="#1c1c1c" stroke-width="0.9"/>
<circle cx="209.28" cy="361.52" r="1.25" fill="#1c1c1c"/>
<circle cx="209.28" cy="367.94" r="1.25" fill="#1c1c1c"/>
<line x1="214.37" y1="361.52" x2="214.37" y2="412.88" stroke="#1c1c1c" stroke-width="0.9"/>
<circle cx="214.37" cy="361.52" r="1.25" fill="#1c1c1c"/>
<circle cx="214.37" cy="412.88" r="1.25" fill="#1c1c1c"/>
<line x1="219.47" y1="380.78" x2="219.47" y2="412.88" stroke="#1c1c1c" stroke-width="0.9"/>
<circle cx="219.47" cy="380.78" r="1.25" fill="#1c1c1c"/>
<circle cx="219.47" cy="412.88" r="1.25" fill="#1c1c1c"/>
<line x1="224.57" y1="361.52" x2="224.57" y2="406.46" stroke="#1c1c1c" stroke-width="0.9"/>
<circle cx="224.57" cy="361.52" r="1.25" fill="#1c1c1c"/>
<circle cx="224.57" cy="406.46" r="1.25" fill="#1c1c1c"/>
<line x1="229.67" y1="367.94" x2="229.67" y2="406.46" stroke="#1c1c1c" stroke-width="0.9"/>
<circle cx="229.67" cy="367.94" r="1.25" fill="#1c1c1c"/>
<circle cx="229.67" cy="406.46" r="1.25" fill="#1c1c1c"/>
<line x1="234.77" y1="374.36" x2="234.77" y2="406.46" stroke="#1c1c1c" stroke-width="0.9"/>
<circle cx="234.77" cy="374.36" r="1.25" fill="#1c1c1c"/>
<circle cx="234.77" cy="406.46" r="1.25" fill="#1c1c1c"/>
<line x1="239.86" y1="380.78" x2="239.86" y2="406.46" stroke="#1c1c1c" stroke-width="0.9"/>
<circle cx="239.86" cy="380.78" r="1.25" fill="#1c1c1c"/>
<circle cx="239.86" cy="406.46" r="1.25" fill="#1c1c1c"/>
<line x1="244.96" y1="374.36" x2="244.96" y2="412.88" stroke="#1c1c1c" stroke-width="0.9"/>
<circle cx="244.96" cy="374.36" r="1.25" fill="#1c1c1c"/>
<circle cx="244.96" cy="412.88" r="1.25" fill="#1c1c1c"/>
<line x1="250.06" y1="361.52" x2="250.06" y2="380.78" stroke="#1c1c1c" stroke-width="0.9"/>
<circle cx="250.06" cy="361.52" r="1.25" fill="#1c1c1c"/>
<circle cx="250.06" cy="380.78" r="1.25" fill="#1c1c1c"/>
<line x1="255.16" y1="367.94" x2="255.16" y2="393.62" stroke="#1c1c1c" stroke-width="0.9"/>
<circle cx="255.16" cy="367.94" r="1.25" fill="#1c1c1c"/>
<circle cx="255.16" cy="393.62" r="1.25" fill="#1c1c1c"/>
<line x1="260.26" y1="393.62" x2="260.26" y2="400.04" stroke="#1c1c1c" stroke-width="0.9"/>
<circle cx="260.26" cy="393.62" r="1.25" fill="#1c1c1c"/>
<circle cx="260.26" cy="400.04" r="1.25" fill="#1c1c1c"/>
<line x1="265.35" y1="393.62" x2="265.35" y2="412.88" stroke="#1c1c1c" stroke-width="0.9"/>
<circle cx="265.35" cy="393.62" r="1.25" fill="#1c1c1c"/>
<circle cx="265.35" cy="412.88" r="1.25" fill="#1c1c1c"/>
<line x1="270.45" y1="374.36" x2="270.45" y2="412.88" stroke="#1c1c1c" stroke-width="0.9"/>
<circle cx="270.45" cy="374.36" r="1.25" fill="#1c1c1c"/>
<circle cx="270.45" cy="406.46" r="1.25" fill="#1c1c1c"/>
<circle cx="270.45" cy="412.88" r="1.25" fill="#1c1c1c"/>
<line x1="275.55" y1="367.94" x2="275.55" y2="412.88" stroke="#1c1c1c" stroke-width="0.9"/>
<circle cx="275.55" cy="367.94" r="1.25" fill="#1c1c1c"/>
<circle cx="275.55" cy="374.36" r="1.25" fill="#1c1c1c"/>
<circle cx="275.55" cy="412.88" r="1.25" fill="#1c1c1c"/>
<line x1="280.65" y1="367.94" x2="280.65" y2="406.46" stroke="#1c1c1c" stroke-width="0.9"/>
<circle cx="280.65" cy="367.94" r="1.25" fill="#1c1c1c"/>
<circle cx="280.65" cy="374.36" r="1.25" fill="#1c1c1c"/>
<circle cx="280.65" cy="406.46" r="1.25" fill="#1c1c1c"/>
<line x1="285.75" y1="367.94" x2="285.75" y2="380.78" stroke="#1c1c1c" stroke-width="0.9"/>
<circle cx="285.75" cy="367.94" r="1.25" fill="#1c1c1c"/>
<circle cx="285.75" cy="374.36" r="1.25" fill="#1c1c1c"/>
<circle cx="285.75" cy="380.78" r="1.25" fill="#1c1c1c"/>
<line x1="290.84" y1="361.52" x2="290.84" y2="412.88" stroke="#1c1c1c" stroke-width="0.9"/>
<circle cx="290.84" cy="361.52" r="1.25" fill="#1c1c1c"/>
<circle cx="290.84" cy="406.46" r="1.25" fill="#1c1c1c"/>
<circle cx="290.84" cy="412.88" r="1.25" fill="#1c1c1c"/>
<line x1="295.94" y1="367.94" x2="295.94" y2="412.88" stroke="#1c1c1c" stroke-width="0.9"/>
<circle cx="295.94" cy="367.94" r="1.25" fill="#1c1c1c"/>
<circle cx="295.94" cy="406.46" r="1.25" fill="#1c1c1c"/>
<circle cx="295.94" cy="412.88" r="1.25" fill="#1c1c1c"/>
<line x1="301.04" y1="380.78" x2="301.04" y2="412.88" stroke="#1c1c1c" stroke-width="0.9"/>
<circle cx="301.04" cy="380.78" r="1.25" fill="#1c1c1c"/>
<circle cx="301.04" cy="406.46" r="1.25" fill="#1c1c1c"/>
<circle cx="301.04" cy="412.88" r="1.25" fill="#1c1c1c"/>
<line x1="306.14" y1="361.52" x2="306.14" y2="374.36" stroke="#1c1c1c" stroke-width="0.9"/>
<circle cx="306.14" cy="361.52" r="1.25" fill="#1c1c1c"/>
<circle cx="306.14" cy="367.94" r="1.25" fill="#1c1c1c"/>
<circle cx="306.14" cy="374.36" r="1.25" fill="#1c1c1c"/>
<line x1="311.24" y1="367.94" x2="311.24" y2="412.88" stroke="#1c1c1c" stroke-width="0.9"/>
<circle cx="311.24" cy="367.94" r="1.25" fill="#1c1c1c"/>
<circle cx="311.24" cy="380.78" r="1.25" fill="#1c1c1c"/>
<circle cx="311.24" cy="412.88" r="1.25" fill="#1c1c1c"/>
<line x1="316.33" y1="361.52" x2="316.33" y2="380.78" stroke="#1c1c1c" stroke-width="0.9"/>
<circle cx="316.33" cy="361.52" r="1.25" fill="#1c1c1c"/>
<circle cx="316.33" cy="367.94" r="1.25" fill="#1c1c1c"/>
<circle cx="316.33" cy="380.78" r="1.25" fill="#1c1c1c"/>
<line x1="321.43" y1="367.94" x2="321.43" y2="406.46" stroke="#1c1c1c" stroke-width="0.9"/>
<circle cx="321.43" cy="367.94" r="1.25" fill="#1c1c1c"/>
<circle cx="321.43" cy="380.78" r="1.25" fill="#1c1c1c"/>
<circle cx="321.43" cy="406.46" r="1.25" fill="#1c1c1c"/>
<line x1="326.53" y1="361.52" x2="326.53" y2="406.46" stroke="#1c1c1c" stroke-width="0.9"/>
<circle cx="326.53" cy="361.52" r="1.25" fill="#1c1c1c"/>
<circle cx="326.53" cy="367.94" r="1.25" fill="#1c1c1c"/>
<circle cx="326.53" cy="406.46" r="1.25" fill="#1c1c1c"/>
<line x1="331.63" y1="361.52" x2="331.63" y2="412.88" stroke="#1c1c1c" stroke-width="0.9"/>
<circle cx="331.63" cy="361.52" r="1.25" fill="#1c1c1c"/>
<circle cx="331.63" cy="374.36" r="1.25" fill="#1c1c1c"/>
<circle cx="331.63" cy="412.88" r="1.25" fill="#1c1c1c"/>
<line x1="336.73" y1="367.94" x2="336.73" y2="387.2" stroke="#1c1c1c" stroke-width="0.9"/>
<circle cx="336.73" cy="367.94" r="1.25" fill="#1c1c1c"/>
<circle cx="336.73" cy="374.36" r="1.25" fill="#1c1c1c"/>
<circle cx="336.73" cy="387.2" r="1.25" fill="#1c1c1c"/>
<line x1="341.82" y1="361.52" x2="341.82" y2="393.62" stroke="#1c1c1c" stroke-width="0.9"/>
<circle cx="341.82" cy="361.52" r="1.25" fill="#1c1c1c"/>
<circle cx="341.82" cy="367.94" r="1.25" fill="#1c1c1c"/>
<circle cx="341.82" cy="393.62" r="1.25" fill="#1c1c1c"/>
<line x1="346.92" y1="367.94" x2="346.92" y2="400.04" stroke="#1c1c1c" stroke-width="0.9"/>
<circle cx="346.92" cy="367.94" r="1.25" fill="#1c1c1c"/>
<circle cx="346.92" cy="393.62" r="1.25" fill="#1c1c1c"/>
<circle cx="346.92" cy="400.04" r="1.25" fill="#1c1c1c"/>
<line x1="352.02" y1="374.36" x2="352.02" y2="406.46" stroke="#1c1c1c" stroke-width="0.9"/>
<circle cx="352.02" cy="374.36" r="1.25" fill="#1c1c1c"/>
<circle cx="352.02" cy="380.78" r="1.25" fill="#1c1c1c"/>
<circle cx="352.02" cy="406.46" r="1.25" fill="#1c1c1c"/>
<line x1="357.12" y1="361.52" x2="357.12" y2="412.88" stroke="#1c1c1c" stroke-width="0.9"/>
<circle cx="357.12" cy="361.52" r="1.25" fill="#1c1c1c"/>
<circle cx="357.12" cy="380.78" r="1.25" fill="#1c1c1c"/>
<circle cx="357.12" cy="412.88" r="1.25" fill="#1c1c1c"/>
<line x1="362.22" y1="374.36" x2="362.22" y2="412.88" stroke="#1c1c1c" stroke-width="0.9"/>
<circle cx="362.22" cy="374.36" r="1.25" fill="#1c1c1c"/>
<circle cx="362.22" cy="380.78" r="1.25" fill="#1c1c1c"/>
<circle cx="362.22" cy="412.88" r="1.25" fill="#1c1c1c"/>
<line x1="367.31" y1="367.94" x2="367.31" y2="412.88" stroke="#1c1c1c" stroke-width="0.9"/>
<circle cx="367.31" cy="367.94" r="1.25" fill="#1c1c1c"/>
<circle cx="367.31" cy="374.36" r="1.25" fill="#1c1c1c"/>
<circle cx="367.31" cy="406.46" r="1.25" fill="#1c1c1c"/>
<circle cx="367.31" cy="412.88" r="1.25" fill="#1c1c1c"/>
<line x1="372.41" y1="367.94" x2="372.41" y2="412.88" stroke="#1c1c1c" stroke-width="0.9"/>
<circle cx="372.41" cy="367.94" r="1.25" fill="#1c1c1c"/>
<circle cx="372.41" cy="374.36" r="1.25" fill="#1c1c1c"/>
<circle cx="372.41" cy="380.78" r="1.25" fill="#1c1c1c"/>
<circle cx="372.41" cy="412.88" r="1.25" fill="#1c1c1c"/>
<line x1="377.51" y1="374.36" x2="377.51" y2="412.88" stroke="#1c1c1c" stroke-width="0.9"/>
<circle cx="377.51" cy="374.36" r="1.25" fill="#1c1c1c"/>
<circle cx="377.51" cy="380.78" r="1.25" fill="#1c1c1c"/>
<circle cx="377.51" cy="406.46" r="1.25" fill="#1c1c1c"/>
<circle cx="377.51" cy="412.88" r="1.25" fill="#1c1c1c"/>
<line x1="382.61" y1="361.52" x2="382.61" y2="412.88" stroke="#1c1c1c" stroke-width="0.9"/>
<circle cx="382.61" cy="361.52" r="1.25" fill="#1c1c1c"/>
<circle cx="382.61" cy="367.94" r="1.25" fill="#1c1c1c"/>
<circle cx="382.61" cy="374.36" r="1.25" fill="#1c1c1c"/>
<circle cx="382.61" cy="412.88" r="1.25" fill="#1c1c1c"/>
<line x1="387.71" y1="361.52" x2="387.71" y2="412.88" stroke="#1c1c1c" stroke-width="0.9"/>
<circle cx="387.71" cy="361.52" r="1.25" fill="#1c1c1c"/>
<circle cx="387.71" cy="374.36" r="1.25" fill="#1c1c1c"/>
<circle cx="387.71" cy="406.46" r="1.25" fill="#1c1c1c"/>
<circle cx="387.71" cy="412.88" r="1.25" fill="#1c1c1c"/>
<line x1="392.8" y1="367.94" x2="392.8" y2="412.88" stroke="#1c1c1c" stroke-width="0.9"/>
<circle cx="392.8" cy="367.94" r="1.25" fill="#1c1c1c"/>
<circle cx="392.8" cy="380.78" r="1.25" fill="#1c1c1c"/>
<circle cx="392.8" cy="406.46" r="1.25" fill="#1c1c1c"/>
<circle cx="392.8" cy="412.88" r="1.25" fill="#1c1c1c"/>
<line x1="397.9" y1="361.52" x2="397.9" y2="380.78" stroke="#1c1c1c" stroke-width="0.9"/>
<circle cx="397.9" cy="361.52" r="1.25" fill="#1c1c1c"/>
<circle cx="397.9" cy="367.94" r="1.25" fill="#1c1c1c"/>
<circle cx="397.9" cy="374.36" r="1.25" fill="#1c1c1c"/>
<circle cx="397.9" cy="380.78" r="1.25" fill="#1c1c1c"/>
<line x1="403" y1="367.94" x2="403" y2="400.04" stroke="#1c1c1c" stroke-width="0.9"/>
<circle cx="403" cy="367.94" r="1.25" fill="#1c1c1c"/>
<circle cx="403" cy="374.36" r="1.25" fill="#1c1c1c"/>
<circle cx="403" cy="393.62" r="1.25" fill="#1c1c1c"/>
<circle cx="403" cy="400.04" r="1.25" fill="#1c1c1c"/>
<line x1="408.1" y1="367.94" x2="408.1" y2="400.04" stroke="#1c1c1c" stroke-width="0.9"/>
<circle cx="408.1" cy="367.94" r="1.25" fill="#1c1c1c"/>
<circle cx="408.1" cy="380.78" r="1.25" fill="#1c1c1c"/>
<circle cx="408.1" cy="393.62" r="1.25" fill="#1c1c1c"/>
<circle cx="408.1" cy="400.04" r="1.25" fill="#1c1c1c"/>
<line x1="413.2" y1="367.94" x2="413.2" y2="406.46" stroke="#1c1c1c" stroke-width="0.9"/>
<circle cx="413.2" cy="367.94" r="1.25" fill="#1c1c1c"/>
<circle cx="413.2" cy="374.36" r="1.25" fill="#1c1c1c"/>
<circle cx="413.2" cy="380.78" r="1.25" fill="#1c1c1c"/>
<circle cx="413.2" cy="406.46" r="1.25" fill="#1c1c1c"/>
<line x1="418.29" y1="361.52" x2="418.29" y2="412.88" stroke="#1c1c1c" stroke-width="0.9"/>
<circle cx="418.29" cy="361.52" r="1.25" fill="#1c1c1c"/>
<circle cx="418.29" cy="367.94" r="1.25" fill="#1c1c1c"/>
<circle cx="418.29" cy="380.78" r="1.25" fill="#1c1c1c"/>
<circle cx="418.29" cy="412.88" r="1.25" fill="#1c1c1c"/>
<line x1="423.39" y1="361.52" x2="423.39" y2="412.88" stroke="#1c1c1c" stroke-width="0.9"/>
<circle cx="423.39" cy="361.52" r="1.25" fill="#1c1c1c"/>
<circle cx="423.39" cy="367.94" r="1.25" fill="#1c1c1c"/>
<circle cx="423.39" cy="406.46" r="1.25" fill="#1c1c1c"/>
<circle cx="423.39" cy="412.88" r="1.25" fill="#1c1c1c"/>
<line x1="428.49" y1="361.52" x2="428.49" y2="412.88" stroke="#1c1c1c" stroke-width="0.9"/>
<circle cx="428.49" cy="361.52" r="1.25" fill="#1c1c1c"/>
<circle cx="428.49" cy="380.78" r="1.25" fill="#1c1c1c"/>
<circle cx="428.49" cy="406.46" r="1.25" fill="#1c1c1c"/>
<circle cx="428.49" cy="412.88" r="1.25" fill="#1c1c1c"/>
<line x1="433.59" y1="367.94" x2="433.59" y2="393.62" stroke="#1c1c1c" stroke-width="0.9"/>
<circle cx="433.59" cy="367.94" r="1.25" fill="#1c1c1c"/>
<circle cx="433.59" cy="374.36" r="1.25" fill="#1c1c1c"/>
<circle cx="433.59" cy="380.78" r="1.25" fill="#1c1c1c"/>
<circle cx="433.59" cy="393.62" r="1.25" fill="#1c1c1c"/>
<line x1="438.69" y1="361.52" x2="438.69" y2="400.04" stroke="#1c1c1c" stroke-width="0.9"/>
<circle cx="438.69" cy="361.52" r="1.25" fill="#1c1c1c"/>
<circle cx="438.69" cy="367.94" r="1.25" fill="#1c1c1c"/>
<circle cx="438.69" cy="393.62" r="1.25" fill="#1c1c1c"/>
<circle cx="438.69" cy="400.04" r="1.25" fill="#1c1c1c"/>
<line x1="443.78" y1="361.52" x2="443.78" y2="406.46" stroke="#1c1c1c" stroke-width="0.9"/>
<circle cx="443.78" cy="361.52" r="1.25" fill="#1c1c1c"/>
<circle cx="443.78" cy="367.94" r="1.25" fill="#1c1c1c"/>
<circle cx="443.78" cy="374.36" r="1.25" fill="#1c1c1c"/>
<circle cx="443.78" cy="406.46" r="1.25" fill="#1c1c1c"/>
<line x1="448.88" y1="367.94" x2="448.88" y2="412.88" stroke="#1c1c1c" stroke-width="0.9"/>
<circle cx="448.88" cy="367.94" r="1.25" fill="#1c1c1c"/>
<circle cx="448.88" cy="374.36" r="1.25" fill="#1c1c1c"/>
<circle cx="448.88" cy="380.78" r="1.25" fill="#1c1c1c"/>
<circle cx="448.88" cy="406.46" r="1.25" fill="#1c1c1c"/>
<circle cx="448.88" cy="412.88" r="1.25" fill="#1c1c1c"/>
<line x1="453.98" y1="361.52" x2="453.98" y2="412.88" stroke="#1c1c1c" stroke-width="0.9"/>
<circle cx="453.98" cy="361.52" r="1.25" fill="#1c1c1c"/>
<circle cx="453.98" cy="367.94" r="1.25" fill="#1c1c1c"/>
<circle cx="453.98" cy="374.36" r="1.25" fill="#1c1c1c"/>
<circle cx="453.98" cy="406.46" r="1.25" fill="#1c1c1c"/>
<circle cx="453.98" cy="412.88" r="1.25" fill="#1c1c1c"/>
<line x1="459.08" y1="361.52" x2="459.08" y2="412.88" stroke="#1c1c1c" stroke-width="0.9"/>
<circle cx="459.08" cy="361.52" r="1.25" fill="#1c1c1c"/>
<circle cx="459.08" cy="367.94" r="1.25" fill="#1c1c1c"/>
<circle cx="459.08" cy="374.36" r="1.25" fill="#1c1c1c"/>
<circle cx="459.08" cy="380.78" r="1.25" fill="#1c1c1c"/>
<circle cx="459.08" cy="412.88" r="1.25" fill="#1c1c1c"/>
<line x1="464.18" y1="361.52" x2="464.18" y2="393.62" stroke="#1c1c1c" stroke-width="0.9"/>
<circle cx="464.18" cy="361.52" r="1.25" fill="#1c1c1c"/>
<circle cx="464.18" cy="367.94" r="1.25" fill="#1c1c1c"/>
<circle cx="464.18" cy="374.36" r="1.25" fill="#1c1c1c"/>
<circle cx="464.18" cy="380.78" r="1.25" fill="#1c1c1c"/>
<circle cx="464.18" cy="393.62" r="1.25" fill="#1c1c1c"/>
<line x1="469.27" y1="367.94" x2="469.27" y2="400.04" stroke="#1c1c1c" stroke-width="0.9"/>
<circle cx="469.27" cy="367.94" r="1.25" fill="#1c1c1c"/>
<circle cx="469.27" cy="374.36" r="1.25" fill="#1c1c1c"/>
<circle cx="469.27" cy="387.2" r="1.25" fill="#1c1c1c"/>
<circle cx="469.27" cy="393.62" r="1.25" fill="#1c1c1c"/>
<circle cx="469.27" cy="400.04" r="1.25" fill="#1c1c1c"/>
<line x1="474.37" y1="361.52" x2="474.37" y2="406.46" stroke="#1c1c1c" stroke-width="0.9"/>
<circle cx="474.37" cy="361.52" r="1.25" fill="#1c1c1c"/>
<circle cx="474.37" cy="367.94" r="1.25" fill="#1c1c1c"/>
<circle cx="474.37" cy="374.36" r="1.25" fill="#1c1c1c"/>
<circle cx="474.37" cy="380.78" r="1.25" fill="#1c1c1c"/>
<circle cx="474.37" cy="406.46" r="1.25" fill="#1c1c1c"/>
<line x1="479.47" y1="361.52" x2="479.47" y2="412.88" stroke="#1c1c1c" stroke-width="0.9"/>
<circle cx="479.47" cy="361.52" r="1.25" fill="#1c1c1c"/>
<circle cx="479.47" cy="367.94" r="1.25" fill="#1c1c1c"/>
<circle cx="479.47" cy="380.78" r="1.25" fill="#1c1c1c"/>
<circle cx="479.47" cy="406.46" r="1.25" fill="#1c1c1c"/>
<circle cx="479.47" cy="412.88" r="1.25" fill="#1c1c1c"/>
<line x1="484.57" y1="361.52" x2="484.57" y2="412.88" stroke="#1c1c1c" stroke-width="0.9"/>
<circle cx="484.57" cy="361.52" r="1.25" fill="#1c1c1c"/>
<circle cx="484.57" cy="367.94" r="1.25" fill="#1c1c1c"/>
<circle cx="484.57" cy="374.36" r="1.25" fill="#1c1c1c"/>
<circle cx="484.57" cy="380.78" r="1.25" fill="#1c1c1c"/>
<circle cx="484.57" cy="406.46" r="1.25" fill="#1c1c1c"/>
<circle cx="484.57" cy="412.88" r="1.25" fill="#1c1c1c"/>
<line x1="489.67" y1="361.52" x2="489.67" y2="400.04" stroke="#1c1c1c" stroke-width="0.9"/>
<circle cx="489.67" cy="361.52" r="1.25" fill="#1c1c1c"/>
<circle cx="489.67" cy="367.94" r="1.25" fill="#1c1c1c"/>
<circle cx="489.67" cy="374.36" r="1.25" fill="#1c1c1c"/>
<circle cx="489.67" cy="380.78" r="1.25" fill="#1c1c1c"/>
<circle cx="489.67" cy="393.62" r="1.25" fill="#1c1c1c"/>
<circle cx="489.67" cy="400.04" r="1.25" fill="#1c1c1c"/>
<line x1="494.76" y1="367.94" x2="494.76" y2="400.04" stroke="#1c1c1c" stroke-width="0.9"/>
<circle cx="494.76" cy="367.94" r="1.25" fill="#1c1c1c"/>
<circle cx="494.76" cy="374.36" r="1.25" fill="#1c1c1c"/>
<circle cx="494.76" cy="380.78" r="1.25" fill="#1c1c1c"/>
<circle cx="494.76" cy="387.2" r="1.25" fill="#1c1c1c"/>
<circle cx="494.76" cy="393.62" r="1.25" fill="#1c1c1c"/>
<circle cx="494.76" cy="400.04" r="1.25" fill="#1c1c1c"/>
<line x1="499.86" y1="361.52" x2="499.86" y2="412.88" stroke="#1c1c1c" stroke-width="0.9"/>
<circle cx="499.86" cy="361.52" r="1.25" fill="#1c1c1c"/>
<circle cx="499.86" cy="367.94" r="1.25" fill="#1c1c1c"/>
<circle cx="499.86" cy="374.36" r="1.25" fill="#1c1c1c"/>
<circle cx="499.86" cy="380.78" r="1.25" fill="#1c1c1c"/>
<circle cx="499.86" cy="393.62" r="1.25" fill="#1c1c1c"/>
<circle cx="499.86" cy="400.04" r="1.25" fill="#1c1c1c"/>
<circle cx="499.86" cy="412.88" r="1.25" fill="#1c1c1c"/>
<text class="b" x="125.5" y="356.7" font-size="4.4" text-anchor="middle" fill="#222">undetected</text>
<text class="b" x="125.5" y="363.12" font-size="4.4" text-anchor="middle" fill="#222">Basenji</text>
<text class="b" x="125.5" y="369.54" font-size="4.4" text-anchor="middle" fill="#222">DeepSEA</text>
<text class="b" x="125.5" y="375.96" font-size="4.4" text-anchor="middle" fill="#222">LINSIGHT</text>
<text class="b" x="125.5" y="382.38" font-size="4.4" text-anchor="middle" fill="#222">Orion</text>
<text class="b" x="125.5" y="388.8" font-size="4.4" text-anchor="middle" fill="#222">MORFEE</text>
<text class="b" x="125.5" y="395.22" font-size="4.4" text-anchor="middle" fill="#222">5utr</text>
<text class="b" x="125.5" y="401.64" font-size="4.4" text-anchor="middle" fill="#222">UTRannotator</text>
<text class="b" x="125.5" y="408.06" font-size="4.4" text-anchor="middle" fill="#222">SPIDEX</text>
<text class="b" x="125.5" y="414.48" font-size="4.4" text-anchor="middle" fill="#222">SpliceAI</text>
<rect x="87.8" y="353.55" width="18" height="3.1" fill="#f8477f"/>
<rect x="79.1" y="359.97" width="26.7" height="3.1" fill="#1b6a93"/>
<rect x="10.1" y="366.39" width="95.7" height="3.1" fill="#1b6a93"/>
<rect x="23.2" y="372.81" width="82.6" height="3.1" fill="#1b6a93"/>
<rect x="64.1" y="379.23" width="41.7" height="3.1" fill="#1b6a93"/>
<rect x="104.5" y="385.65" width="1.3" height="3.1" fill="#ff8a0c"/>
<rect x="100.9" y="392.07" width="4.9" height="3.1" fill="#ff8a0c"/>
<rect x="102.3" y="398.49" width="3.5" height="3.1" fill="#ff8a0c"/>
<rect x="27.8" y="404.91" width="78" height="3.1" fill="#a00f96"/>
<rect x="10.1" y="411.33" width="95.7" height="3.1" fill="#a00f96"/>
<line x1="5.5" y1="416.5" x2="109" y2="416.5" stroke="#bdbdbd" stroke-width="0.7"/>
<line x1="105.8" y1="416.5" x2="105.8" y2="418" stroke="#999" stroke-width="0.5"/>
<text class="b" x="105.8" y="421.6" font-size="4.4" text-anchor="middle" fill="#444">0</text>
<line x1="80.7" y1="416.5" x2="80.7" y2="418" stroke="#999" stroke-width="0.5"/>
<text class="b" x="80.7" y="421.6" font-size="4.4" text-anchor="middle" fill="#444">100</text>
<line x1="55.5" y1="416.5" x2="55.5" y2="418" stroke="#999" stroke-width="0.5"/>
<text class="b" x="55.5" y="421.6" font-size="4.4" text-anchor="middle" fill="#444">200</text>
<line x1="30.2" y1="416.5" x2="30.2" y2="418" stroke="#999" stroke-width="0.5"/>
<text class="b" x="30.2" y="421.6" font-size="4.4" text-anchor="middle" fill="#444">300</text>
<text class="b" x="57.6" y="427.6" font-size="5.2" text-anchor="middle" fill="#222">Number of variants</text>
</g>
</svg>
</body></html>
